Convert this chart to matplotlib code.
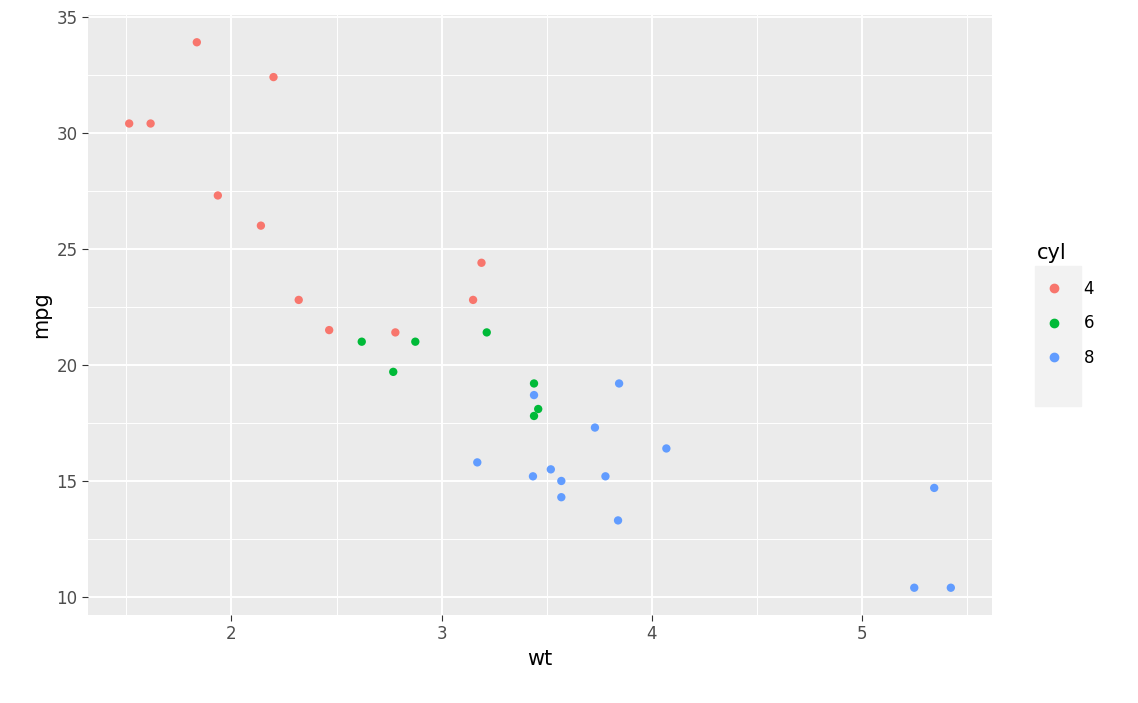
import matplotlib
matplotlib.use("Agg")
import matplotlib.pyplot as plt
from matplotlib.lines import Line2D

wt = [2.620,2.875,2.320,3.215,3.440,3.460,3.570,3.190,3.150,3.440,3.440,4.070,3.730,3.780,5.250,5.424,5.345,2.200,1.615,1.835,2.465,3.520,3.435,3.840,3.845,1.935,2.140,1.513,3.170,2.770,3.570,2.780]
mpg = [21.0,21.0,22.8,21.4,18.7,18.1,14.3,24.4,22.8,19.2,17.8,16.4,17.3,15.2,10.4,10.4,14.7,32.4,30.4,33.9,21.5,15.5,15.2,13.3,19.2,27.3,26.0,30.4,15.8,19.7,15.0,21.4]
cyl = [6,6,4,6,8,6,8,4,4,6,6,8,8,8,8,8,8,4,4,4,4,8,8,8,8,4,4,4,8,6,8,4]
levels = [4, 6, 8]
colors = {4: "#F8766D", 6: "#00BA38", 8: "#619CFF"}

fig = plt.figure(figsize=(11.38, 7.03), dpi=100)
ax = fig.add_axes([88/1138, 88/703, (992-88)/1138, (615-15)/703])
ax.set_facecolor("#EBEBEB")
for s in ax.spines.values():
    s.set_visible(False)
ax.set_xlim(1.317, 5.620)
ax.set_ylim(9.225, 35.075)
ax.set_xticks([2, 3, 4, 5])
ax.set_yticks([10, 15, 20, 25, 30, 35])
ax.set_xticks([1.5, 2.5, 3.5, 4.5, 5.5], minor=True)
ax.set_yticks([12.5, 17.5, 22.5, 27.5, 32.5], minor=True)
ax.grid(which="major", color="white", linewidth=1.4)
ax.grid(which="minor", color="white", linewidth=0.7)
ax.set_axisbelow(True)
ax.tick_params(which="major", length=4, color="#333333", labelsize=12, labelcolor="#4D4D4D")
ax.tick_params(which="minor", length=0)
for lv in levels:
    xs = [w for w, c in zip(wt, cyl) if c == lv]
    ys = [m for m, c in zip(mpg, cyl) if c == lv]
    ax.scatter(xs, ys, s=36, color=colors[lv], edgecolors="none", zorder=3)
ax.set_xlabel("wt", fontsize=15)
ax.set_ylabel("mpg", fontsize=15)

handles = [Line2D([], [], marker="o", linestyle="none", markersize=6, color=colors[lv]) for lv in levels]
leg = fig.legend(handles, [str(l) for l in levels], title="cyl", loc="upper left",
                 bbox_to_anchor=(1022/1138, 1 - 228/703), frameon=False,
                 fontsize=12, title_fontsize=15, handletextpad=0.8, labelspacing=1.0,
                 alignment="left")
fig.add_artist(plt.Rectangle((1035/1138, 1 - 406/703), 46/1138, 140/703,
                             transform=fig.transFigure, color="#F2F2F2", zorder=0))
fig.savefig("out.png", dpi=100)
